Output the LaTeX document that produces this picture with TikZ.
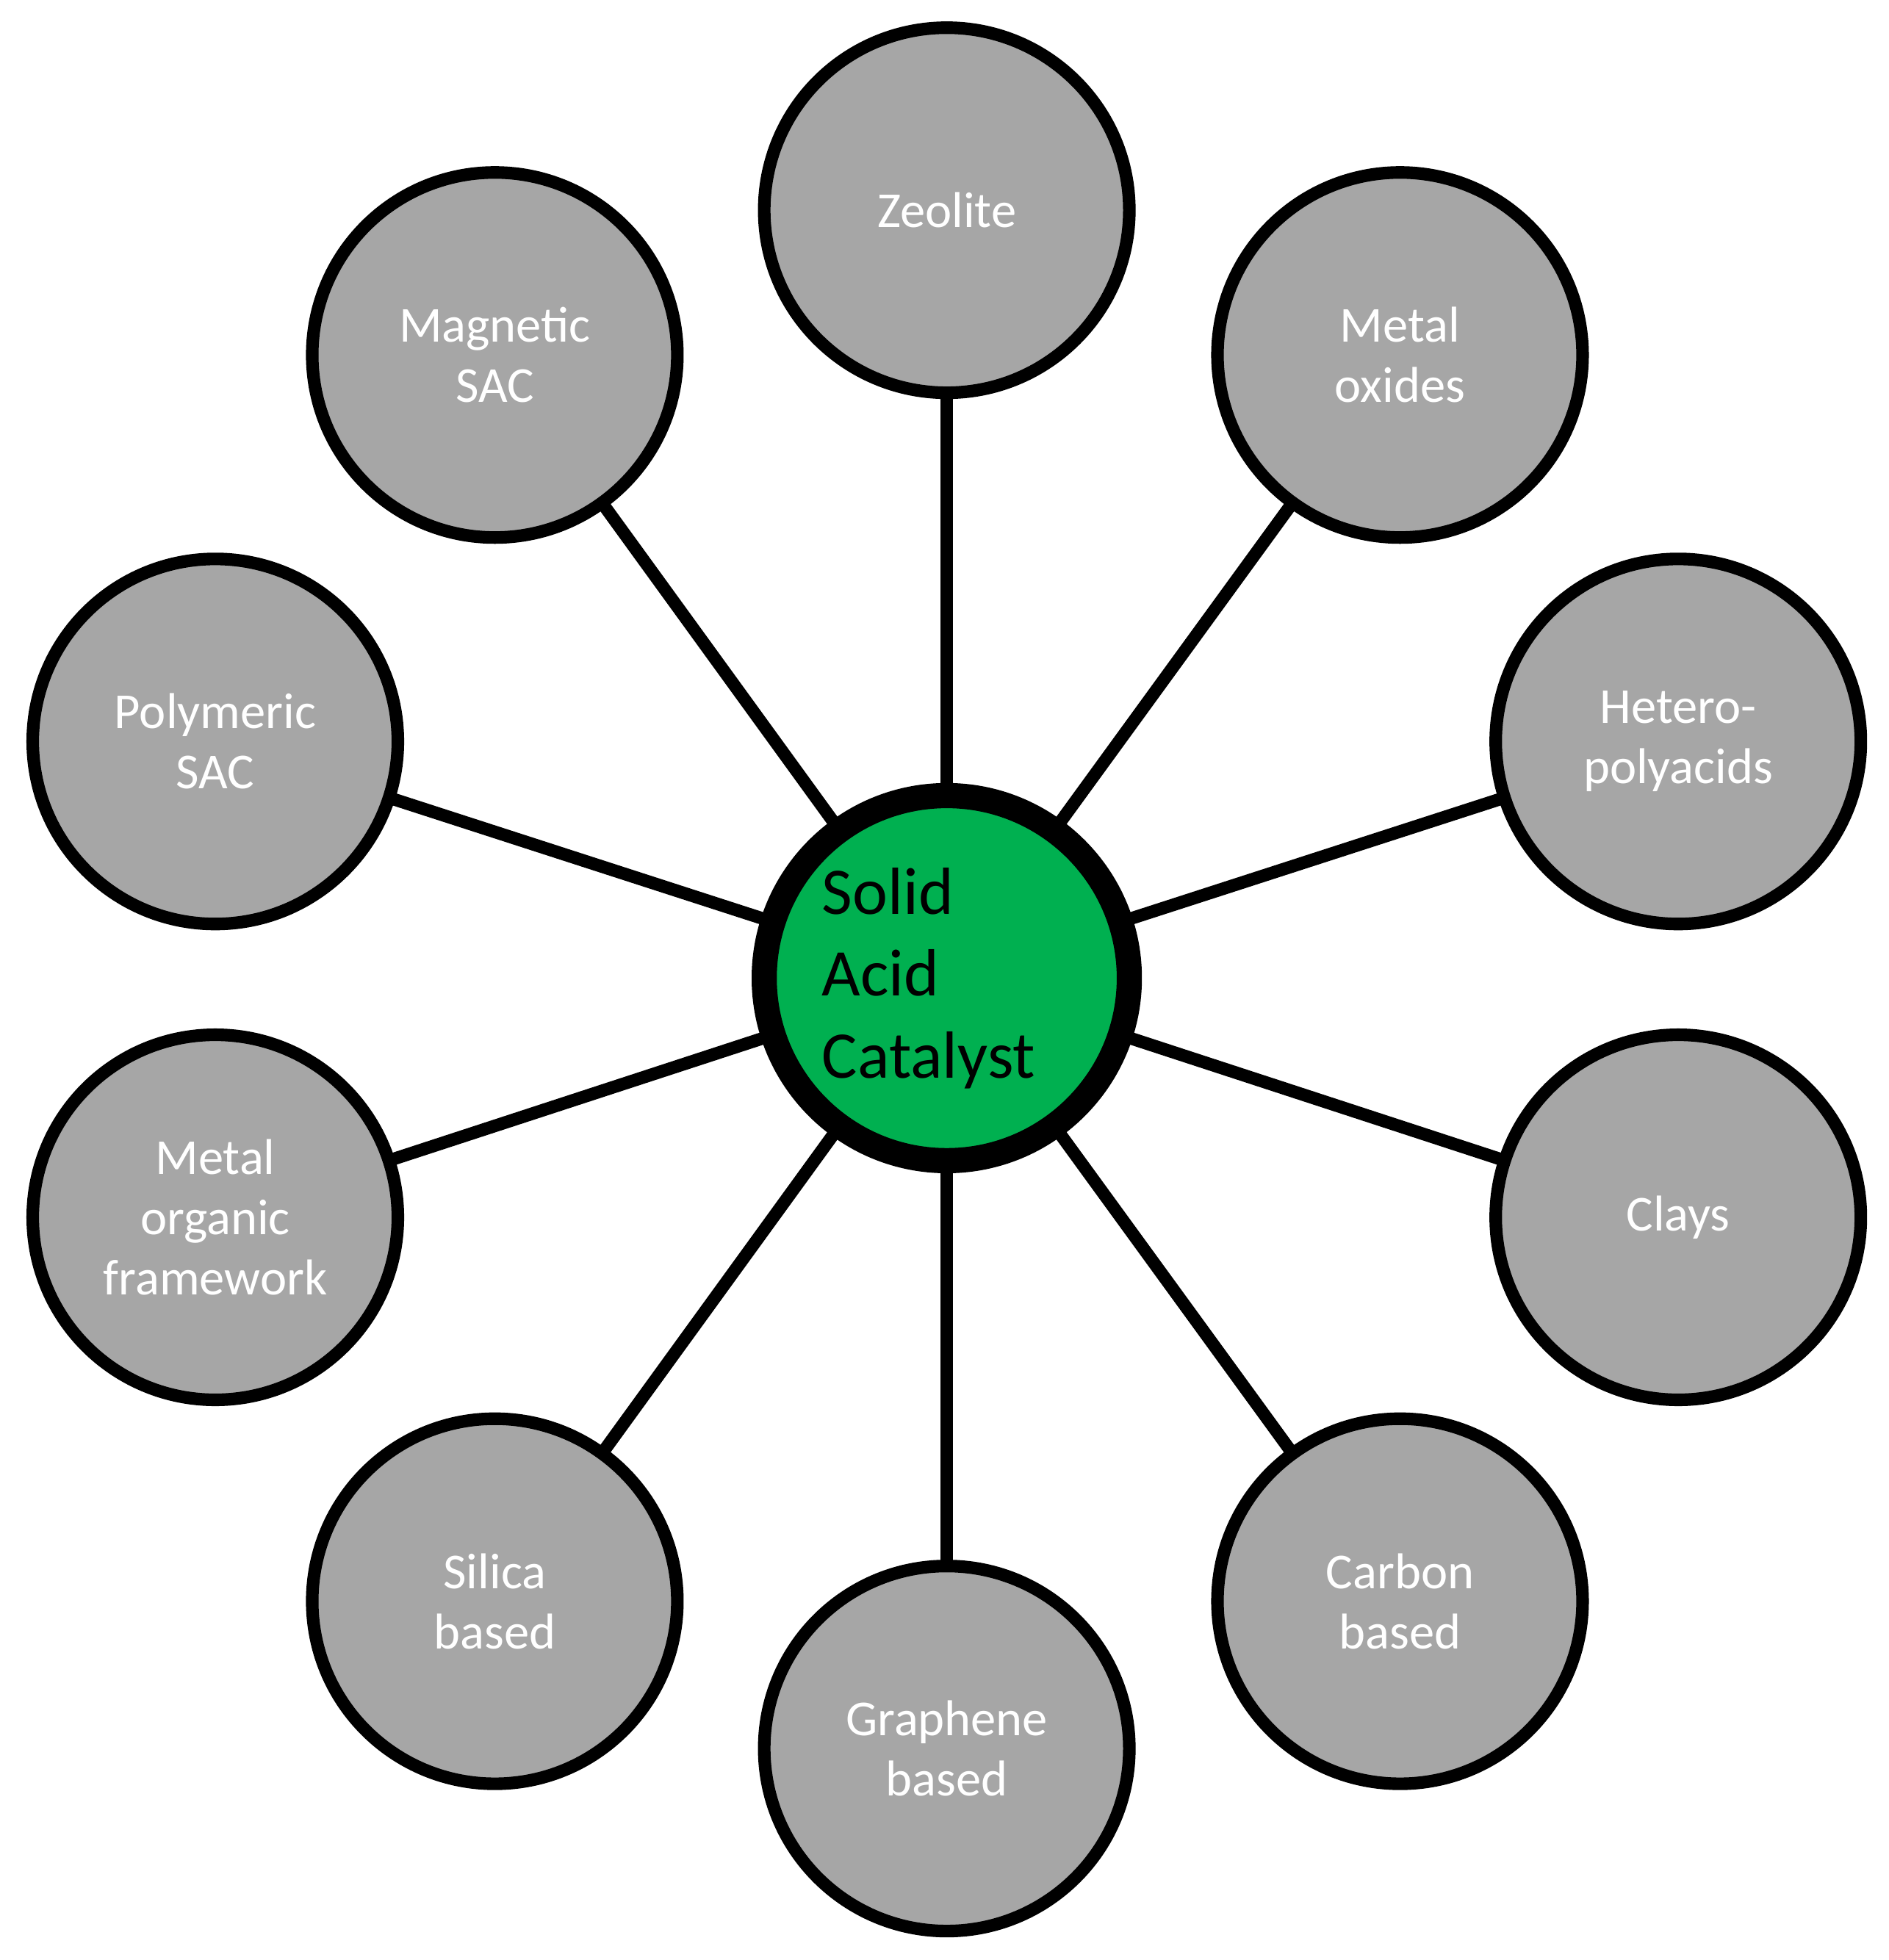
\documentclass[tikz,border=0pt]{standalone}
\usepackage{fontspec}
\setmainfont{Carlito}
\begin{document}
\begin{tikzpicture}[x=0.5pt,y=-0.5pt,
  sat/.style={circle,draw=black,line width=5pt,fill=satgray,minimum size=145pt,inner sep=0pt,outer sep=0pt,text=white,font=\fontsize{20}{24}\selectfont,align=center},
  hub/.style={circle,draw=black,line width=10pt,fill=hubgreen,minimum size=145pt,inner sep=0pt,outer sep=0pt,font=\fontsize{26.5}{32.5}\selectfont,align=left,text width=99pt},
  link/.style={line width=5pt}]
\definecolor{satgray}{HTML}{A6A6A6}
\definecolor{hubgreen}{HTML}{00B050}
\useasboundingbox (0,0) rectangle (1500,1557);
\node[hub] (c) at (752,777) {Solid\\Acid\\Catalyst};
\node[sat] (z) at (752,167) {Zeolite};
\node[sat] (mo) at (1112,282) {Metal\\oxides};
\node[sat] (h) at (1333,589) {Hetero-\\polyacids};
\node[sat] (cl) at (1333,967) {Clays};
\node[sat] (cb) at (1112,1272) {Carbon\\based};
\node[sat] (g) at (752,1389) {Graphene\\based};
\node[sat] (s) at (393,1272) {Silica\\based};
\node[sat] (mof) at (171,967) {Metal\\organic\\framework};
\node[sat] (p) at (171,589) {Polymeric\\SAC};
\node[sat] (m) at (393,282) {Magnetic\\SAC};
\foreach \n in {z,mo,h,cl,cb,g,s,mof,p,m} \draw[link] (c) -- (\n);
\end{tikzpicture}
\end{document}
